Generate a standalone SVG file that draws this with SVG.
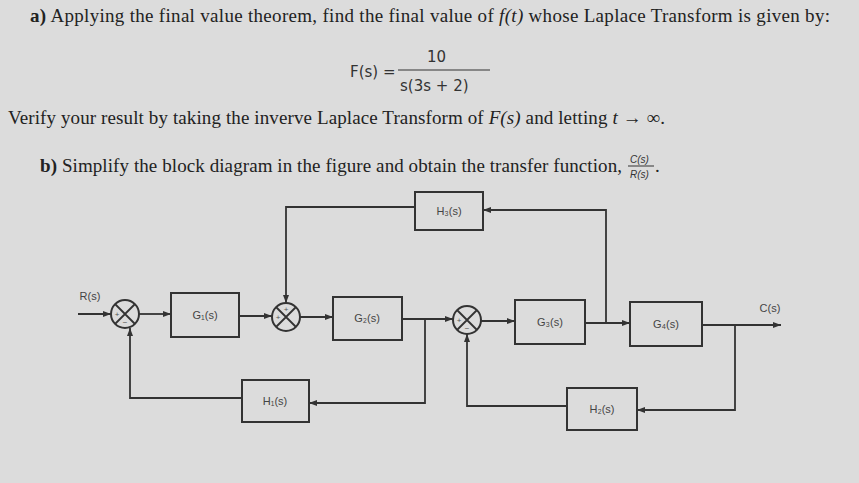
<svg xmlns="http://www.w3.org/2000/svg" width="859" height="483" viewBox="0 0 859 483">
<defs>
<marker id="ah" markerWidth="8" markerHeight="6" refX="8" refY="3" orient="auto" markerUnits="userSpaceOnUse"><path d="M0,0 L8,3 L0,6 z" fill="#333"/></marker>
<style>
.t{font-family:"Liberation Serif",serif;font-size:19px;fill:#222}
.m{font-family:"DejaVu Sans",sans-serif;font-size:15px;fill:#333}
.bx{fill:none;stroke:#333;stroke-width:2}
.bl{font-family:"Liberation Sans",sans-serif;font-size:11px;fill:#444;text-anchor:middle}
.c{fill:none;stroke:#333;stroke-width:1.8}
.sg{font-family:"Liberation Sans",sans-serif;font-size:8px;fill:#555;text-anchor:middle}
</style>
</defs>
<rect width="859" height="483" fill="#dcdcdc"/>
<text class="t" x="30" y="22" textLength="800"><tspan font-weight="bold">a)</tspan>  Applying the final value theorem, find the final value of <tspan font-style="italic">f(t)</tspan> whose Laplace Transform is given by:</text>
<text class="m" x="350" y="77">F(s) =</text>
<text class="m" x="427" y="62">10</text>
<line x1="398" y1="70" x2="490" y2="70" stroke="#333" stroke-width="1.2"/>
<text class="m" x="400" y="91">s(3s + 2)</text>
<text class="t" x="8" y="124" textLength="657">Verify your result by taking the inverve Laplace Transform of <tspan font-style="italic">F(s)</tspan> and letting <tspan font-style="italic">t</tspan> → ∞.</text>
<text class="t" x="40" y="172" textLength="582"><tspan font-weight="bold">b)</tspan>  Simplify the block diagram in the figure and obtain the transfer function,</text>
<text font-family="Liberation Sans,sans-serif" font-size="10" font-style="italic" fill="#333" x="630" y="163">C(s)</text>
<line x1="628" y1="166" x2="654" y2="166" stroke="#333"/>
<text font-family="Liberation Sans,sans-serif" font-size="10" font-style="italic" fill="#333" x="630" y="178">R(s)</text>
<text class="t" x="655" y="172">.</text>

<g id="connectors">
<path class="c" d="M78,314 H111" marker-end="url(#ah)"/>
<path class="c" d="M139,314 H171" marker-end="url(#ah)"/>
<path class="c" d="M239,316 H272" marker-end="url(#ah)"/>
<path class="c" d="M300,317 H333" marker-end="url(#ah)"/>
<path class="c" d="M402,319 H453" marker-end="url(#ah)"/>
<path class="c" d="M425,319 V403 H309" marker-end="url(#ah)"/>
<path class="c" d="M242,398 H130 V328" marker-end="url(#ah)"/>
<path class="c" d="M415,207 H286 V303" marker-end="url(#ah)"/>
<path class="c" d="M481,321 H515" marker-end="url(#ah)"/>
<path class="c" d="M585,323 H630" marker-end="url(#ah)"/>
<path class="c" d="M606,323 V210 H483" marker-end="url(#ah)"/>
<path class="c" d="M702,325 H781" marker-end="url(#ah)"/>
<path class="c" d="M735,325 V410 H637" marker-end="url(#ah)"/>
<path class="c" d="M567,406 H467 V334" marker-end="url(#ah)"/>
</g>
<text class="bl" x="90" y="300">R(s)</text>
<text class="bl" x="770" y="312">C(s)</text>

<g id="sum1"><circle cx="125" cy="314" r="14" class="bx"/><path class="c" d="M115,304 L135,324 M135,304 L115,324"/><text class="sg" x="117" y="317">+</text><text class="sg" x="125" y="325">−</text></g>
<g id="G1"><rect class="bx" x="171" y="293" width="68" height="44"/><text class="bl" x="205" y="319">G₁(s)</text></g>
<g id="sum2"><circle cx="286" cy="317" r="14" class="bx"/><path class="c" d="M276,307 L296,327 M296,307 L276,327"/><text class="sg" x="286" y="312">+</text><text class="sg" x="278" y="320">+</text></g>
<g id="G2"><rect class="bx" x="333" y="297" width="69" height="43"/><text class="bl" x="367" y="322">G₂(s)</text></g>
<g id="H1"><rect class="bx" x="242" y="380" width="67" height="42"/><text class="bl" x="275" y="405">H₁(s)</text></g>
<g id="H3"><rect class="bx" x="415" y="192" width="68" height="38"/><text class="bl" x="449" y="215">H₃(s)</text></g>
<g id="sum3"><circle cx="467" cy="320" r="14" class="bx"/><path class="c" d="M457,310 L477,330 M477,310 L457,330"/><text class="sg" x="459" y="323">+</text><text class="sg" x="467" y="331">−</text></g>
<g id="G3"><rect class="bx" x="515" y="300" width="70" height="44"/><text class="bl" x="550" y="326">G₃(s)</text></g>
<g id="G4"><rect class="bx" x="630" y="302" width="72" height="44"/><text class="bl" x="666" y="328">G₄(s)</text></g>
<g id="H2"><rect class="bx" x="567" y="388" width="70" height="42"/><text class="bl" x="602" y="413">H₂(s)</text></g>
</svg>
